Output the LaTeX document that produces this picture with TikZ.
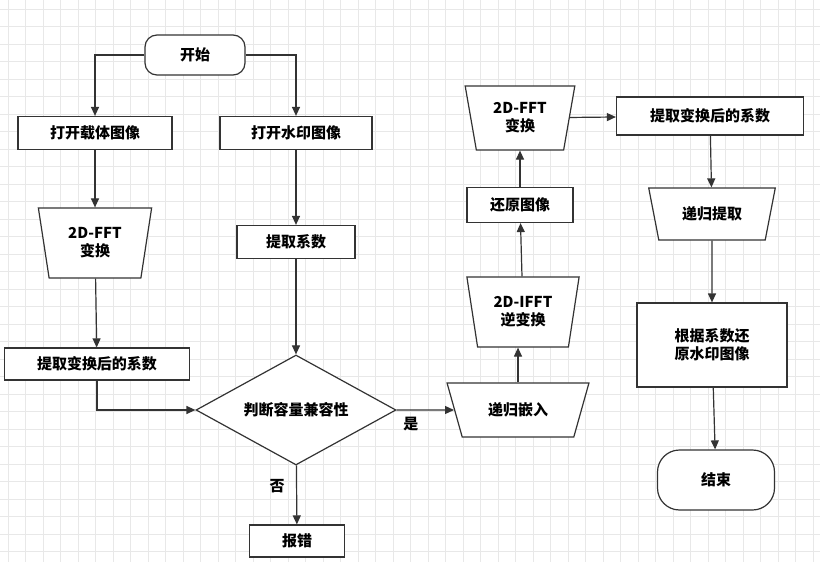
\documentclass[tikz,border=0pt]{standalone}
\usepackage{fontspec}
\setmainfont{Noto Sans CJK SC}
\usetikzlibrary{shapes.geometric,arrows.meta}
\begin{document}
\begin{tikzpicture}[x=1pt,y=-1pt,
  font=\bfseries\fontsize{15}{18}\selectfont,
  box/.style={draw=black!80,line width=1.2pt,fill=white,align=center,inner sep=2pt},
  proc/.style={box,rectangle},
  term/.style={box,rectangle,rounded corners=12pt},
  trap/.style={box,trapezium,shape border rotate=180,trapezium stretches=true},
  dia/.style={box,diamond,aspect=1.8,inner sep=0pt},
  line/.style={draw=black!80,line width=1.2pt},
  arr/.style={line,-{Triangle[length=9pt,width=8pt]}}]
\useasboundingbox (0,0) rectangle (820,562);
\fill[white] (0,0) rectangle (820,562);
\foreach \i in {0,...,47} \draw[black!9,line width=0.8pt] (8.3+17.5*\i,0) -- (8.3+17.5*\i,562);
\foreach \i in {0,...,32} \draw[black!9,line width=0.8pt] (0,9.3+17.5*\i) -- (820,9.3+17.5*\i);

\node[term,minimum width=100pt,minimum height=40pt] (start) at (195,55) {开始};
\node[proc,minimum width=154pt,minimum height=33pt] (load1) at (95,133) {打开载体图像};
\node[proc,minimum width=152pt,minimum height=33pt] (load2) at (296,133) {打开水印图像};
\node[trap,trapezium angle=79,minimum width=114pt,minimum height=70pt] (fft1) at (95,243) {2D-FFT\\变换};
\node[proc,minimum width=118pt,minimum height=33pt] (coef) at (296,242) {提取系数};
\node[proc,minimum width=185pt,minimum height=32pt] (ext1) at (97,364) {提取变换后的系数};
\node[dia,minimum width=200pt,minimum height=110pt] (chk) at (296,410) {判断容量兼容性};
\node[proc,minimum width=95pt,minimum height=32pt] (err) at (297,541) {报错};
\node[trap,trapezium angle=65,minimum width=143pt,minimum height=54pt] (emb) at (518,410) {递归嵌入};
\node[trap,trapezium angle=78,minimum width=113pt,minimum height=70pt] (ifft) at (523,312) {2D-IFFT\\逆变换};
\node[proc,minimum width=106pt,minimum height=35pt] (rest) at (520,205) {还原图像};
\node[trap,trapezium angle=78,minimum width=110pt,minimum height=64pt] (fft2) at (520,118) {2D-FFT\\变换};
\node[proc,minimum width=187pt,minimum height=38pt] (ext2) at (710,116) {提取变换后的系数};
\node[trap,trapezium angle=72,minimum width=127pt,minimum height=52pt] (rex) at (712,214) {递归提取};
\node[proc,minimum width=150pt,minimum height=84pt] (rec) at (712,345) {根据系数还\\原水印图像};
\node[term,rounded corners=22pt,minimum width=117pt,minimum height=60pt] (end) at (716,480) {结束};

\draw[arr] (start.west) -| (load1.north);
\draw[arr] (start.east) -| (load2.north);
\draw[arr] (load1) -- (fft1);
\draw[arr] (fft1) -- (ext1);
\draw[arr] (ext1.south) |- (chk.west);
\draw[arr] (load2) -- (coef);
\draw[arr] (coef) -- (chk);
\draw[arr] (chk) -- node[pos=0.25,below=3pt]{是} (emb);
\draw[arr] (chk) -- node[pos=0.35,left=8pt]{否} (err);
\draw[arr] (emb.north) -- (emb.north |- ifft.south);
\draw[arr] (ifft) -- (rest);
\draw[arr] (rest) -- (fft2);
\draw[arr] (fft2) -- (ext2);
\draw[arr] (ext2) -- (rex);
\draw[arr] (rex) -- (rec);
\draw[arr] (rec) -- (end);
\end{tikzpicture}
\end{document}
